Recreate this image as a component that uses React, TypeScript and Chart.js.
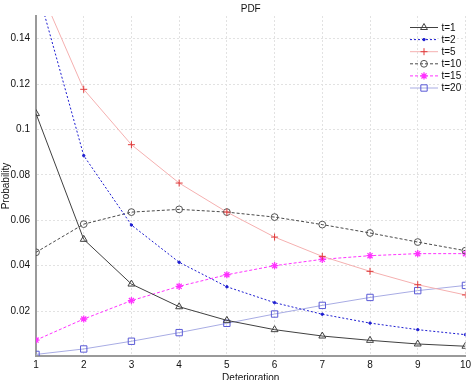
import React, { useEffect, useRef } from 'react';
import { Chart, registerables } from 'chart.js';
import { drawPoint } from 'chart.js/helpers';

Chart.register(...registerables);

const deterioration = [1, 2, 3, 4, 5, 6, 7, 8, 9, 10];
const yTickValues = [0.02, 0.04, 0.06, 0.08, 0.1, 0.12, 0.14];
const seriesLabels = ['t=1', 't=2', 't=5', 't=10', 't=15', 't=20'];
const t1 = [0.107, 0.0516, 0.0319, 0.0219, 0.0159, 0.0118, 0.009, 0.0071, 0.0055, 0.0045];
const t2 = [0.164, 0.0885, 0.0579, 0.0415, 0.0307, 0.0237, 0.0186, 0.0147, 0.0118, 0.0096];
const t5 = [0.166, 0.1177, 0.0933, 0.0764, 0.0636, 0.0526, 0.0441, 0.0375, 0.0316, 0.0271];
const t10 = [0.0459, 0.0583, 0.0636, 0.0648, 0.0636, 0.0614, 0.0581, 0.0544, 0.0504, 0.0466];
const t15 = [0.0072, 0.0165, 0.0246, 0.0309, 0.036, 0.04, 0.0428, 0.0444, 0.0453, 0.0453];
const t20 = [0.0009, 0.0033, 0.0067, 0.0105, 0.0146, 0.0187, 0.0225, 0.026, 0.029, 0.0313];

const FONT = "'Liberation Sans', Arial, Helvetica, sans-serif";

const toPoints = (vals: number[]) => vals.map((v, i) => ({ x: deterioration[i], y: v }));

const titlePlugin = {
  id: 'pdfTitle',
  afterDraw(chart: any) {
    const ctx = chart.ctx;
    ctx.save();
    ctx.font = `10px ${FONT}`;
    ctx.fillStyle = '#111';
    ctx.textAlign = 'center';
    ctx.textBaseline = 'middle';
    ctx.fillText('PDF', (chart.chartArea.left + chart.chartArea.right) / 2, 9);
    ctx.restore();
  },
};

const legendPlugin = {
  id: 'matLegend',
  afterDatasetsDraw(chart: any) {
    const ctx = chart.ctx;
    chart.data.datasets.forEach((ds: any, i: number) => {
      const y = 27.5 + i * 12.1;
      ctx.save();
      ctx.strokeStyle = ds.borderColor;
      ctx.lineWidth = ds.borderWidth;
      ctx.setLineDash(ds.borderDash || []);
      ctx.beginPath();
      ctx.moveTo(410, y);
      ctx.lineTo(438, y);
      ctx.stroke();
      ctx.setLineDash([]);
      ctx.strokeStyle = ds.pointBorderColor;
      ctx.fillStyle = ds.pointBackgroundColor;
      ctx.lineWidth = ds.pointBorderWidth;
      drawPoint(ctx, { pointStyle: ds.pointStyle, radius: ds.pointRadius, borderWidth: ds.pointBorderWidth, rotation: 0 } as any, 424, y);
      ctx.fillStyle = '#111';
      ctx.font = `10px ${FONT}`;
      ctx.textAlign = 'left';
      ctx.textBaseline = 'middle';
      ctx.fillText(ds.label, 441.5, y + 0.5);
      ctx.restore();
    });
  },
};

export default function App() {
  const ref = useRef<HTMLCanvasElement | null>(null);
  useEffect(() => {
    document.body.style.margin = '0';
    const canvas = ref.current;
    if (!canvas) return;
    const seriesValues = [t1, t2, t5, t10, t15, t20];
    const styles = [
      { line: '#404040', dash: [], marker: '#404040', pointStyle: 'triangle', r: 4, fill: 'transparent', bw: 1 },
      { line: '#1c1cd0', dash: [2, 2], marker: '#1c1cd0', pointStyle: 'circle', r: 1.2, fill: '#1c1cd0', bw: 1 },
      { line: '#f5b0b0', dash: [], marker: '#e03a3a', pointStyle: 'cross', r: 3.5, fill: 'transparent', bw: 1 },
      { line: '#4a4a4a', dash: [3, 2], marker: '#555555', pointStyle: 'circle', r: 3.4, fill: 'transparent', bw: 1 },
      { line: '#ff33ff', dash: [3, 2], marker: '#ff33ff', pointStyle: 'star', r: 3.6, fill: 'transparent', bw: 1.3 },
      { line: '#a8ace4', dash: [], marker: '#5a5ad6', pointStyle: 'rect', r: 4.5, fill: 'transparent', bw: 1 },
    ];
    const chart = new Chart(canvas, {
      type: 'line',
      data: {
        datasets: seriesValues.map((vals, i) => ({
          label: seriesLabels[i],
          data: toPoints(vals),
          borderColor: styles[i].line,
          borderWidth: 1,
          borderDash: styles[i].dash,
          pointStyle: styles[i].pointStyle as any,
          pointRadius: styles[i].r,
          pointBorderColor: styles[i].marker,
          pointBackgroundColor: styles[i].fill,
          pointBorderWidth: styles[i].bw,
          tension: 0,
          fill: false,
        })),
      },
      options: {
        animation: false,
        responsive: false,
        devicePixelRatio: 1,
        layout: { padding: { top: 16, right: 5, left: 0, bottom: 0 } },
        plugins: { legend: { display: false }, title: { display: false }, tooltip: { enabled: false } },
        scales: {
          x: {
            type: 'linear',
            min: 1,
            max: 10,
            afterFit: (s: any) => { s.height = 24; },
            afterBuildTicks: (s: any) => { s.ticks = deterioration.map((v) => ({ value: v })); },
            ticks: { color: '#111', font: { family: FONT, size: 10 }, padding: 3, maxRotation: 0, callback: (v: any) => String(v) },
            grid: { color: '#e2e2e2', drawTicks: false, lineWidth: 1 },
            border: { display: true, color: '#9a9a9a', width: 2, dash: [2, 2] },
            title: { display: true, text: 'Deterioration', color: '#111', font: { family: FONT, size: 10 }, padding: { top: 0, bottom: -4 } },
          },
          y: {
            type: 'linear',
            min: 0.0002,
            max: 0.15,
            afterFit: (s: any) => { s.width = 36; },
            afterBuildTicks: (s: any) => { s.ticks = yTickValues.map((v) => ({ value: v })); },
            ticks: { color: '#111', font: { family: FONT, size: 10 }, padding: 6, callback: (v: any) => String(+Number(v).toFixed(2)) },
            grid: { color: '#e2e2e2', drawTicks: false, lineWidth: 1 },
            border: { display: true, color: '#9a9a9a', width: 2, dash: [2, 2] },
            title: { display: true, text: 'Probability', color: '#111', font: { family: FONT, size: 10 }, padding: { top: 0, bottom: 0 } },
          },
        },
      },
      plugins: [titlePlugin, legendPlugin],
    });
    return () => chart.destroy();
  }, []);
  return (
    <div style={{ width: 474, height: 380 }}>
      <canvas ref={ref} width={474} height={380} />
    </div>
  );
}
